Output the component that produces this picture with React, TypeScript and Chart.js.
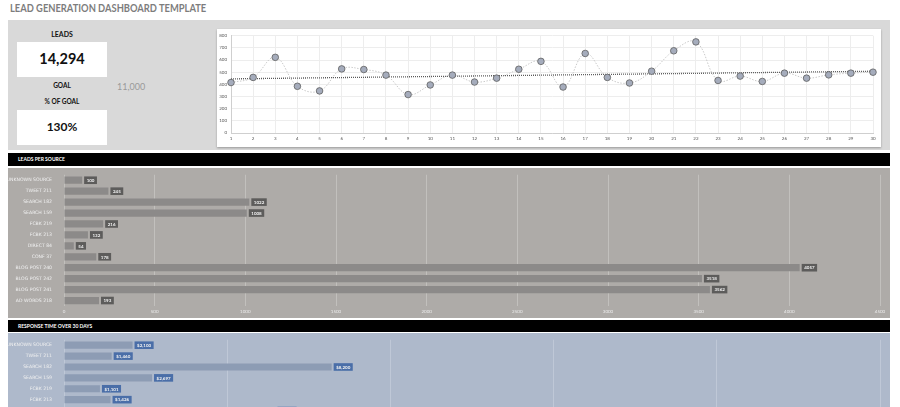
import React, { useEffect, useRef } from 'react';
import Chart from 'chart.js/auto';

// daily leads (line chart)
const dayLabels = ['1', '2', '3', '4', '5', '6', '7', '8', '9', '10', '11', '12', '13', '14', '15',
    '16', '17', '18', '19', '20', '21', '22', '23', '24', '25', '26', '27', '28', '29', '30'];
const dailyLeads = [415, 457, 622, 384, 346, 527, 522, 476, 316, 395, 476, 419, 451, 524, 589,
    378, 654, 457, 411, 508, 676, 749, 432, 468, 424, 492, 451, 478, 492, 500];
const trendStart = 445;
const trendEnd = 508;

// leads per source
const sources = ['UNKNOWN SOURCE', 'TWEET 211', 'SEARCH 182', 'SEARCH 159', 'FCBK 219', 'FCBK 213',
    'DIRECT 84', 'CONF 37', 'BLOG POST 240', 'BLOG POST 242', 'BLOG POST 241', 'AD WORDS 218'];
const leadsBySource = [100, 245, 1022, 1008, 216, 132, 54, 178, 4057, 3518, 3562, 193];

// response time over 30 days (only the visible rows)
const responseSources = ['UNKNOWN SOURCE', 'TWEET 211', 'SEARCH 182', 'SEARCH 159', 'FCBK 219', 'FCBK 213', 'DIRECT 84'];
const responseCost = [2100, 1460, 8200, 2697, 1101, 1426, 6480];

const FONT = 'Lato, "DejaVu Sans", sans-serif';

function valueBoxPlugin(boxColor: string, fmt: (v: number) => string) {
    return {
        id: 'valueBox',
        afterDatasetsDraw(chart: any) {
            const ctx = chart.ctx;
            const meta = chart.getDatasetMeta(0);
            const data = chart.data.datasets[0].data as number[];
            ctx.save();
            ctx.font = `bold 4.5px ${FONT}`;
            ctx.textBaseline = 'middle';
            meta.data.forEach((bar: any, i: number) => {
                const txt = fmt(data[i]);
                const w = ctx.measureText(txt).width + 5;
                const x = bar.x + 2;
                ctx.fillStyle = boxColor;
                ctx.fillRect(x, bar.y - 3.8, w, 7.6);
                ctx.fillStyle = '#f2f2f2';
                ctx.fillText(txt, x + 2.5, bar.y + 0.3);
            });
            ctx.restore();
        },
    };
}

function LeadsLine() {
    const ref = useRef<HTMLCanvasElement>(null);
    useEffect(() => {
        if (!ref.current) return;
        const chart = new Chart(ref.current, {
            type: 'line',
            data: {
                labels: dayLabels,
                datasets: [
                    {
                        data: dailyLeads,
                        borderColor: '#c9c9c9',
                        borderWidth: 1,
                        borderDash: [1.5, 1.5],
                        tension: 0.4,
                        pointRadius: 3.3,
                        pointBackgroundColor: '#a5acbc',
                        pointBorderColor: '#5f5f5f',
                        pointBorderWidth: 0.8,
                        order: 1,
                    },
                    {
                        data: [{ x: '1', y: trendStart }, { x: '30', y: trendEnd }],
                        borderColor: '#5a5a5a',
                        borderWidth: 1.3,
                        borderDash: [1, 1],
                        pointRadius: 0,
                        order: 2,
                    },
                ],
            },
            options: {
                animation: false,
                responsive: false,
                layout: { padding: { top: 5, right: 8, left: 0, bottom: 0 } },
                plugins: { legend: { display: false }, tooltip: { enabled: false } },
                scales: {
                    x: {
                        offset: false,
                        grid: { color: '#ededed', drawTicks: false },
                        border: { color: '#cfcfcf' },
                        ticks: { color: '#555', padding: 3, font: { size: 4.5, family: FONT }, maxRotation: 0, autoSkip: false },
                        afterFit: (s: any) => { s.height = 14; },
                    },
                    y: {
                        min: 0,
                        max: 800,
                        grid: { color: '#ededed', drawTicks: false },
                        border: { color: '#cfcfcf' },
                        ticks: { stepSize: 100, color: '#555', padding: 4, font: { size: 4.5, family: FONT } },
                        afterFit: (s: any) => { s.width = 14; },
                    },
                },
            } as any,
        });
        return () => chart.destroy();
    }, []);
    return <canvas ref={ref} width={664} height={118} style={{ width: 664, height: 118, display: 'block' }} />;
}

function HBar(props: {
    labels: string[]; values: number[]; max: number; step: number; height: number;
    bar: string; grid: string; box: string; fmt: (v: number) => string;
}) {
    const ref = useRef<HTMLCanvasElement>(null);
    useEffect(() => {
        if (!ref.current) return;
        const chart = new Chart(ref.current, {
            type: 'bar',
            data: {
                labels: props.labels,
                datasets: [{
                    data: props.values,
                    backgroundColor: props.bar,
                    borderWidth: 0,
                    barPercentage: 0.66,
                    categoryPercentage: 1,
                }],
            },
            options: {
                indexAxis: 'y',
                animation: false,
                responsive: false,
                layout: { padding: { top: 5, right: 10, left: 0, bottom: 0 } },
                plugins: { legend: { display: false }, tooltip: { enabled: false } },
                scales: {
                    x: {
                        min: 0,
                        max: props.max,
                        grid: { color: props.grid, drawTicks: false },
                        border: { display: false },
                        ticks: {
                            stepSize: props.step, color: '#ececec', padding: 3,
                            font: { size: 4.5, family: FONT },
                            callback: (v: any) => String(v),
                        },
                        afterFit: (s: any) => { s.height = 12; },
                    },
                    y: {
                        grid: { display: false },
                        border: { display: false },
                        ticks: { color: '#f0f0f0', padding: 4, font: { size: 4.6, family: '"DejaVu Sans", sans-serif' }, autoSkip: false },
                        afterFit: (s: any) => { s.width = 56; },
                    },
                },
            } as any,
            plugins: [valueBoxPlugin(props.box, props.fmt)],
        });
        return () => chart.destroy();
    }, []);
    return <canvas ref={ref} width={882} height={props.height} style={{ width: 882, height: props.height, display: 'block' }} />;
}

const label: React.CSSProperties = {
    position: 'absolute', fontFamily: FONT, fontWeight: 700, color: '#111', textAlign: 'center',
};

export default function App() {
    return (
        <div style={{ position: 'fixed', left: 0, top: 0, width: 900, height: 407, overflow: 'hidden', background: '#fff', fontFamily: FONT }}>
            <div style={{ position: 'absolute', left: 10, top: 1, fontSize: 11, fontWeight: 700, color: '#7d7d7d', whiteSpace: 'nowrap', transform: 'scaleX(0.85)', transformOrigin: 'left top' }}>
                LEAD GENERATION DASHBOARD TEMPLATE
            </div>

            {/* KPI panel */}
            <div style={{ position: 'absolute', left: 8, top: 20, width: 882, height: 130, background: '#d9d9d9' }} />
            <div style={{ ...label, left: 17, width: 90, top: 30, fontSize: 7 }}>LEADS</div>
            <div style={{ position: 'absolute', left: 17, top: 42, width: 90, height: 35, background: '#fff' }} />
            <div style={{ ...label, left: 17, width: 90, top: 50, fontSize: 14.5, lineHeight: '18px' }}>14,294</div>
            <div style={{ ...label, left: 17, width: 90, top: 82, fontSize: 6.5 }}>GOAL</div>
            <div style={{ position: 'absolute', left: 117, top: 81, fontSize: 9, color: '#9a9a9a' }}>11,000</div>
            <div style={{ ...label, left: 17, width: 90, top: 98, fontSize: 6.5 }}>% OF GOAL</div>
            <div style={{ position: 'absolute', left: 17, top: 110, width: 90, height: 35, background: '#fff' }} />
            <div style={{ ...label, left: 17, width: 90, top: 119, fontSize: 12, lineHeight: '16px' }}>130%</div>

            <div style={{ position: 'absolute', left: 217, top: 29, width: 664, height: 118, background: '#fff', boxShadow: '0 1px 2px rgba(0,0,0,0.3)' }}>
                <LeadsLine />
            </div>

            {/* leads per source */}
            <div style={{ position: 'absolute', left: 8, top: 153, width: 882, height: 13, background: '#000' }}>
                <span style={{ position: 'absolute', left: 10, top: 3, fontSize: 5, fontWeight: 700, color: '#fff', whiteSpace: 'nowrap' }}>LEADS PER SOURCE</span>
            </div>
            <div style={{ position: 'absolute', left: 8, top: 168, width: 882, height: 150, background: '#aeaba8' }}>
                <HBar labels={sources} values={leadsBySource} max={4500} step={500} height={150}
                    bar="#8c8a89" grid="#c2c0bd" box="#5d5c5b" fmt={(v) => String(v)} />
            </div>

            {/* response time */}
            <div style={{ position: 'absolute', left: 8, top: 320, width: 882, height: 12, background: '#000' }}>
                <span style={{ position: 'absolute', left: 10, top: 3, fontSize: 5, fontWeight: 700, color: '#fff', whiteSpace: 'nowrap' }}>RESPONSE TIME OVER 30 DAYS</span>
            </div>
            <div style={{ position: 'absolute', left: 8, top: 333, width: 882, height: 95, background: '#aeb9cb' }}>
                <HBar labels={responseSources} values={responseCost} max={25000} step={5000} height={95}
                    bar="#8d9cb4" grid="#bfc8d7" box="#4a6ea8" fmt={(v) => '$' + v.toLocaleString('en-US')} />
            </div>
        </div>
    );
}
